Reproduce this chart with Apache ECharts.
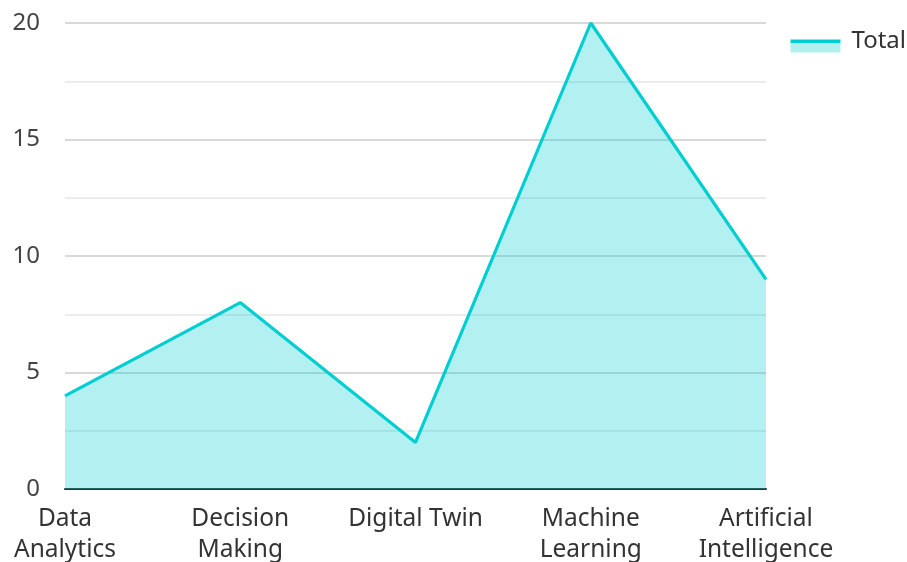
<!DOCTYPE html>
<html><head><meta charset="utf-8">
<script src="https://cdn.jsdelivr.net/npm/echarts@6/dist/echarts.min.js"></script>
<style>html,body{margin:0;padding:0;background:#fff;overflow:hidden}#c{width:907px;height:562px}</style>
</head><body><div id="c"></div>
<script>
var categories = ['Data\nAnalytics', 'Decision\nMaking', 'Digital Twin', 'Machine\nLearning', 'Artificial\nIntelligence'];
var totalValues = [4, 8, 2, 20, 9];
var seriesName = 'Total';

var chart = echarts.init(document.getElementById('c'), null, {renderer: 'canvas'});
var font = '"Noto Sans", "Open Sans", sans-serif';
chart.setOption({
  animation: false,
  textStyle: {fontFamily: font},
  legend: {
    right: -4, top: 24, itemWidth: 50, itemHeight: 13, itemGap: 10,
    icon: 'rect',
    itemStyle: {
      color: {type: 'linear', x: 0, y: 0, x2: 0, y2: 1, colorStops: [
        {offset: 0, color: '#00CED1'}, {offset: 0.27, color: '#00CED1'},
        {offset: 0.27, color: '#b2f0f0'}, {offset: 1, color: '#b2f0f0'}]},
      borderWidth: 0
    },
    lineStyle: {width: 0, opacity: 0},
    formatter: '{t|{name}}',
    textStyle: {
      fontSize: 24, color: '#333', fontFamily: font, padding: [0, 0, 0, 6],
      rich: {t: {fontSize: 24, color: '#333', fontFamily: font, padding: [0, 0, 10, 0]}}
    },
    data: [seriesName]
  },
  grid: {left: 65, right: 141, top: 23, bottom: 73, containLabel: false, outerBoundsMode: 'none'},
  xAxis: {
    type: 'category', boundaryGap: false, data: categories,
    axisLine: {show: true, lineStyle: {color: '#333', width: 2}},
    axisTick: {show: false},
    axisLabel: {fontSize: 24.5, color: '#333', margin: 15, lineHeight: 31, interval: 0, fontFamily: font}
  },
  yAxis: {
    type: 'value', min: 0, max: 20, interval: 5,
    axisLine: {show: false}, axisTick: {show: false},
    axisLabel: {fontSize: 24, color: '#444', margin: 25, fontFamily: font},
    splitLine: {lineStyle: {color: '#cccccc', width: 1.5}},
    minorTick: {show: false, splitNumber: 2},
    minorSplitLine: {show: true, lineStyle: {color: '#e6e6e6', width: 1.5}}
  },
  series: [{
    name: seriesName, type: 'line', data: totalValues,
    symbol: 'none', showSymbol: false,
    lineStyle: {color: '#00CED1', width: 3.2},
    itemStyle: {color: '#00CED1'},
    areaStyle: {color: '#00CED1', opacity: 0.3}
  }]
});
</script></body></html>
